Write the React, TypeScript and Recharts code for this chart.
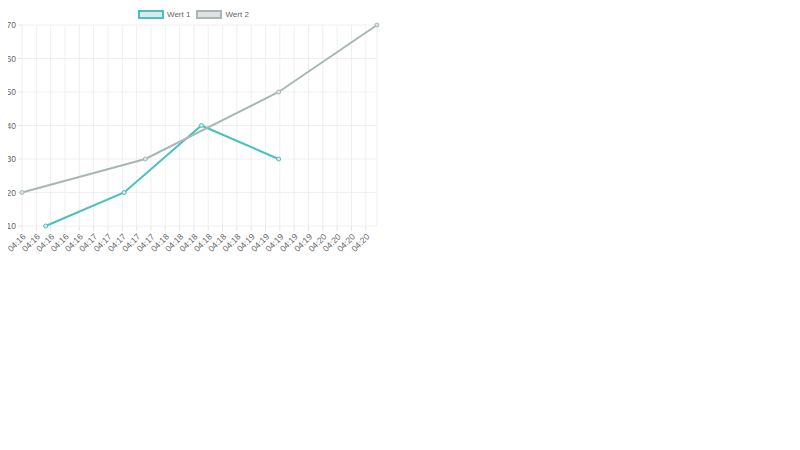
import { LineChart, Line, XAxis, YAxis, CartesianGrid, Legend } from 'recharts';

// seconds after 04:16:00
const xTicks = [
  5, 16.5, 28, 39.5, 51, 62.5, 74, 85.5, 97, 108.5, 120, 131.5, 143, 154.5,
  166, 177.5, 189, 200.5, 212, 223.5, 235, 246.5, 258, 269.5, 281,
];
const xTickLabels = [
  '04:16', '04:16', '04:16', '04:16', '04:16',
  '04:17', '04:17', '04:17', '04:17', '04:17',
  '04:18', '04:18', '04:18', '04:18', '04:18', '04:18',
  '04:19', '04:19', '04:19', '04:19', '04:19',
  '04:20', '04:20', '04:20', '04:20',
];
const yTicks = [10, 20, 30, 40, 50, 60, 70];

const wert1Times = [24, 87, 149, 211];
const wert1Values = [10, 20, 40, 30];
const wert2Times = [5, 104, 211, 290];
const wert2Values = [20, 30, 50, 70];

const TEAL = '#4bc0c0';
const TEAL_FILL = '#dce9ea';
const GREY = '#aab6b6';
const GREY_FILL = '#dfe2e2';
const FONT = "'Liberation Sans', Arial, Helvetica, sans-serif";

const wert1 = wert1Times.map((t, i) => ({ t, y: wert1Values[i] }));
const wert2 = wert2Times.map((t, i) => ({ t, y: wert2Values[i] }));

const legendItems = [
  { name: 'Wert 1', stroke: TEAL, fill: TEAL_FILL },
  { name: 'Wert 2', stroke: GREY, fill: GREY_FILL },
];

function ChartLegend() {
  return (
    <div style={{ display: 'flex', paddingLeft: 130, fontFamily: FONT, fontSize: 8, color: '#666' }}>
      {legendItems.map((it) => (
        <div key={it.name} style={{ display: 'flex', alignItems: 'center', marginRight: 6 }}>
          <span
            style={{
              width: 22,
              height: 5,
              border: `2px solid ${it.stroke}`,
              background: it.fill,
              marginRight: 3,
            }}
          />
          <span>{it.name}</span>
        </div>
      ))}
    </div>
  );
}

export default function App() {
  // pull the chart into the body margin so the first rotated tick is not clipped
  return (
    <div style={{ width: 400, height: 270, marginLeft: -8, marginTop: -8 }}>
      <LineChart
        width={400}
        height={270}
        margin={{ top: 10, right: 23, bottom: 0, left: 8 }}
      >
        <Legend
          verticalAlign='top'
          align='left'
          height={15}
          content={() => <ChartLegend />}
        />
        <CartesianGrid stroke='#ebebeb' strokeWidth={0.8} />
        <XAxis
          type='number'
          dataKey='t'
          domain={[5, 290]}
          ticks={xTicks}
          interval={0}
          height={44}
          axisLine={false}
          tickLine={{ stroke: '#e6e6e6' }}
          tickSize={5}
          tickMargin={2}
          angle={-45}
          textAnchor='end'
          tickFormatter={(v) => xTickLabels[xTicks.indexOf(v)] ?? ''}
          tick={{ fill: '#666', fontSize: 8.5, fontFamily: FONT }}
        />
        <YAxis
          type='number'
          domain={[10, 70]}
          ticks={yTicks}
          interval={0}
          width={14}
          axisLine={false}
          tickLine={{ stroke: '#e6e6e6' }}
          tickSize={4}
          tickMargin={2}
          tick={{ fill: '#666', fontSize: 8.5, fontFamily: FONT }}
        />
        <Line
          data={wert1}
          dataKey='y'
          name='Wert 1'
          type='linear'
          stroke={TEAL}
          strokeWidth={2}
          dot={{ r: 2, strokeWidth: 1, stroke: TEAL, fill: TEAL_FILL }}
          isAnimationActive={false}
        />
        <Line
          data={wert2}
          dataKey='y'
          name='Wert 2'
          type='linear'
          stroke={GREY}
          strokeWidth={2}
          dot={{ r: 2, strokeWidth: 1, stroke: GREY, fill: GREY_FILL }}
          isAnimationActive={false}
        />
      </LineChart>
    </div>
  );
}
